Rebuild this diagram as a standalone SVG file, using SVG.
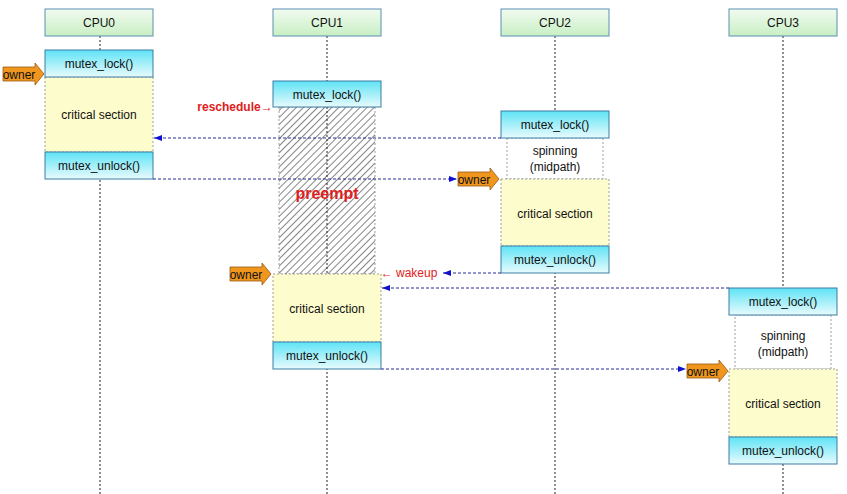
<svg xmlns="http://www.w3.org/2000/svg" width="847" height="494" viewBox="0 0 847 494">
<defs>
<linearGradient id="hg" x1="0" y1="0" x2="0" y2="1"><stop offset="0" stop-color="#f2fbf0"/><stop offset="1" stop-color="#c8efc4"/></linearGradient>
<linearGradient id="cg" x1="0" y1="0" x2="0" y2="1"><stop offset="0" stop-color="#5fe3f5"/><stop offset="1" stop-color="#e8fbfd"/></linearGradient>
<pattern id="hatch" width="5" height="5" patternUnits="userSpaceOnUse" patternTransform="rotate(45)"><rect width="5" height="5" fill="#fff"/><line x1="0" y1="0" x2="0" y2="5" stroke="#333" stroke-width="1.2"/></pattern>
<marker id="ar" markerWidth="8" markerHeight="6" refX="8" refY="3" orient="auto" markerUnits="userSpaceOnUse"><path d="M0,0L8,3L0,6Z" fill="#1010d0"/></marker>
<g id="owner"><path d="M0,-7H32V-11L41,0L32,11V7H0Z" fill="#f0961e" stroke="#9a5a10" stroke-width="0.8"/><text x="16" y="4.5" class="ow">owner</text></g>
</defs>
<style>
text{font-family:"Liberation Sans",Arial,sans-serif;font-size:12px;fill:#111;text-anchor:middle}
.ow{font-size:12px}
.hd{fill:url(#hg);stroke:#5b8fb3;stroke-width:1}
.call{fill:url(#cg);stroke:#3a7ca5;stroke-width:1}
.cs{fill:#fdfccc;stroke:#888;stroke-width:0.8;stroke-dasharray:2,2}
.sp{fill:#fff;stroke:#888;stroke-width:0.8;stroke-dasharray:2,2}
.life{stroke:#222;stroke-width:1;stroke-dasharray:2,2}
.msg{stroke:#2a2a9a;stroke-width:1;stroke-dasharray:3,2;fill:none;marker-end:url(#ar)}
.red{fill:#e02020}
</style>
<g id="lifelines">
<line class="life" x1="100" y1="36" x2="100" y2="494"/>
<line class="life" x1="327" y1="36" x2="327" y2="494"/>
<line class="life" x1="555" y1="36" x2="555" y2="494"/>
<line class="life" x1="783" y1="36" x2="783" y2="494"/>
</g>
<g id="cpu0">
<rect class="hd" x="45" y="9" width="108" height="27"/><text x="99" y="27">CPU0</text>
<rect class="cs" x="45" y="77" width="108" height="75"/><text x="99" y="119">critical section</text>
<rect class="call" x="45" y="50" width="108" height="27"/><text x="99" y="68">mutex_lock()</text>
<rect class="call" x="45" y="152" width="108" height="27"/><text x="99" y="170">mutex_unlock()</text>
<use href="#owner" x="3" y="74"/>
</g>
<g id="cpu1">
<rect class="hd" x="273" y="9" width="108" height="27"/><text x="327" y="27">CPU1</text>
<rect x="279" y="107" width="96" height="167" fill="url(#hatch)" stroke="#888" stroke-width="0.8" stroke-dasharray="2,2"/>
<line class="life" x1="327" y1="107" x2="327" y2="274"/>
<rect class="call" x="273" y="81" width="108" height="26"/><text x="327" y="99">mutex_lock()</text>
<text x="327" y="199" class="red" style="font-size:16px;font-weight:bold">preempt</text>
<text x="235" y="111" class="red" style="font-size:12px;font-weight:bold">reschedule→</text>
<rect class="cs" x="273" y="274" width="108" height="68"/><text x="327" y="313">critical section</text>
<rect class="call" x="273" y="342" width="108" height="27"/><text x="327" y="360">mutex_unlock()</text>
<use href="#owner" x="230" y="274"/>
</g>
<g id="cpu2">
<rect class="hd" x="501" y="9" width="108" height="27"/><text x="555" y="27">CPU2</text>
<rect class="sp" x="507" y="138" width="96" height="41"/><text x="555" y="155">spinning</text><text x="555" y="171">(midpath)</text>
<rect class="call" x="501" y="111" width="108" height="27"/><text x="555" y="129">mutex_lock()</text>
<rect class="cs" x="501" y="179" width="108" height="67"/><text x="555" y="218">critical section</text>
<rect class="call" x="501" y="246" width="108" height="27"/><text x="555" y="264">mutex_unlock()</text>
<use href="#owner" x="458" y="179"/>
</g>
<g id="cpu3">
<rect class="hd" x="729" y="9" width="108" height="27"/><text x="783" y="27">CPU3</text>
<rect class="sp" x="735" y="315" width="96" height="54"/><text x="783" y="340">spinning</text><text x="783" y="356">(midpath)</text>
<rect class="call" x="729" y="288" width="108" height="27"/><text x="783" y="306">mutex_lock()</text>
<rect class="cs" x="729" y="369" width="108" height="68"/><text x="783" y="408">critical section</text>
<rect class="call" x="729" y="437" width="108" height="27"/><text x="783" y="455">mutex_unlock()</text>
<use href="#owner" x="687" y="371"/>
</g>
<g id="connectors">
<line class="msg" x1="501" y1="138" x2="154" y2="138"/>
<line class="msg" x1="153" y1="179" x2="457" y2="179"/>
<line class="msg" x1="501" y1="273" x2="443" y2="273"/>
<text x="409" y="277" class="red" style="font-size:12px">← wakeup</text>
<line class="msg" x1="729" y1="288" x2="382" y2="288"/>
<line class="msg" x1="381" y1="369" x2="686" y2="369"/>
</g>
</svg>
